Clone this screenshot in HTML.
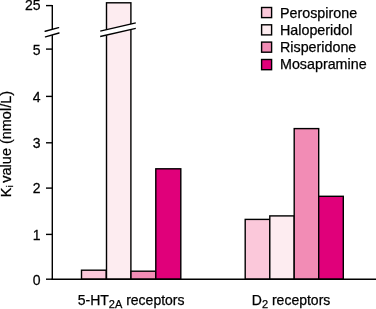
<!DOCTYPE html>
<html>
<head>
<meta charset="utf-8">
<title>Ki values</title>
<style>
html,body{margin:0;padding:0;background:#fff;}
body{width:376px;height:309px;overflow:hidden;}
svg{display:block;}
text{font-family:"Liberation Sans",Arial,Helvetica,sans-serif;font-size:14px;fill:#000;stroke:#000;stroke-width:0.25px;}
.lg text{font-size:14.3px;}
.ax{stroke:#000;stroke-width:1.4;fill:none;}
.bar{stroke:#000;stroke-width:1.4;}
</style>
</head>
<body>
<svg width="376" height="309" viewBox="0 0 376 309">
<rect x="0" y="0" width="376" height="309" fill="#fff"/>
<!-- bars group 1 -->
<rect class="bar" x="81.5" y="270.2" width="24.7" height="9" fill="#fbc8da"/>
<rect class="bar" x="106.5" y="2.8" width="24.4" height="276.4" fill="#fdecf0"/>
<rect class="bar" x="131.0" y="271.2" width="24.8" height="8" fill="#f28cb5"/>
<rect class="bar" x="155.8" y="168.8" width="25" height="110.4" fill="#e0007a"/>
<!-- bars group 2 -->
<rect class="bar" x="245.2" y="219.4" width="24.6" height="59.8" fill="#fbc8da"/>
<rect class="bar" x="269.8" y="215.9" width="24.4" height="63.3" fill="#fdecf0"/>
<rect class="bar" x="294.2" y="128.6" width="24.5" height="150.6" fill="#f28cb5"/>
<rect class="bar" x="318.7" y="196.3" width="24.6" height="82.9" fill="#e0007a"/>
<!-- bar break -->
<polygon points="100,31.2 136,23 136,28.6 100,36.8" fill="#fff"/>
<line class="ax" x1="100.2" y1="31.1" x2="135.8" y2="22.9" stroke-width="1.6"/>
<line class="ax" x1="100.2" y1="36.5" x2="135.8" y2="28.4" stroke-width="1.6"/>
<!-- axes -->
<line class="ax" x1="52.3" y1="4.9" x2="52.3" y2="279.9"/>
<line class="ax" x1="51.6" y1="279.2" x2="376" y2="279.2"/>
<g class="ax">
<line x1="46" y1="5.6" x2="52.3" y2="5.6"/>
<line x1="46" y1="49.1" x2="52.3" y2="49.1"/>
<line x1="46" y1="96.4" x2="52.3" y2="96.4"/>
<line x1="46" y1="142.8" x2="52.3" y2="142.8"/>
<line x1="46" y1="188.1" x2="52.3" y2="188.1"/>
<line x1="46" y1="234.4" x2="52.3" y2="234.4"/>
<line x1="46" y1="279.2" x2="52.3" y2="279.2"/>
</g>
<!-- axis break -->
<polygon points="45,31.6 59,27.8 59,33.2 45,37.2" fill="#fff"/>
<line class="ax" x1="45.2" y1="31.2" x2="58.6" y2="27.6" stroke-width="1.7" stroke-linecap="round"/>
<line class="ax" x1="45.5" y1="36.8" x2="59.0" y2="33.0" stroke-width="1.7" stroke-linecap="round"/>
<!-- tick labels -->
<g text-anchor="end">
<text transform="translate(40.6,10.4) scale(0.96,1)" style="font-size:14.6px">25</text>
<text transform="translate(40.6,55.3) scale(0.96,1)" style="font-size:14.6px">5</text>
<text transform="translate(40.6,101.9) scale(0.96,1)" style="font-size:14.6px">4</text>
<text transform="translate(40.6,148.1) scale(0.96,1)" style="font-size:14.6px">3</text>
<text transform="translate(40.6,193.4) scale(0.96,1)" style="font-size:14.6px">2</text>
<text transform="translate(40.6,239.7) scale(0.96,1)" style="font-size:14.6px">1</text>
<text transform="translate(40.6,284.5) scale(0.96,1)" style="font-size:14.6px">0</text>
</g>
<!-- y label -->
<text transform="translate(10.6,197.3) rotate(-90)" style="font-size:14.5px">K<tspan font-size="8.5" dy="2.1" dx="0.3">i</tspan><tspan dy="-2.1" dx="-1.3"> value</tspan><tspan dx="-0.1"> (nmol/L)</tspan></text>
<!-- x labels -->
<text x="77.7" y="305.2">5-HT<tspan font-size="11" dy="2.8">2A</tspan><tspan dy="-2.8"> receptors</tspan></text>
<text x="251.8" y="305.2">D<tspan font-size="11" dy="2.8">2</tspan><tspan dy="-2.8"> receptors</tspan></text>
<!-- legend -->
<rect class="bar" x="261.6" y="7.5" width="10" height="10.1" fill="#fbc8da" stroke-width="1.6"/>
<rect class="bar" x="261.6" y="24.8" width="10" height="10.1" fill="#fdecf0" stroke-width="1.6"/>
<rect class="bar" x="261.6" y="42.1" width="10" height="10.1" fill="#f28cb5" stroke-width="1.6"/>
<rect class="bar" x="261.6" y="59.5" width="10" height="10.2" fill="#e0007a" stroke-width="1.6"/>
<g class="lg">
<text x="280" y="17.8">Perospirone</text>
<text x="280" y="34.9">Haloperidol</text>
<text x="280" y="52.1">Risperidone</text>
<text x="280" y="69.3">Mosapramine</text>
</g>
</svg>
</body>
</html>
